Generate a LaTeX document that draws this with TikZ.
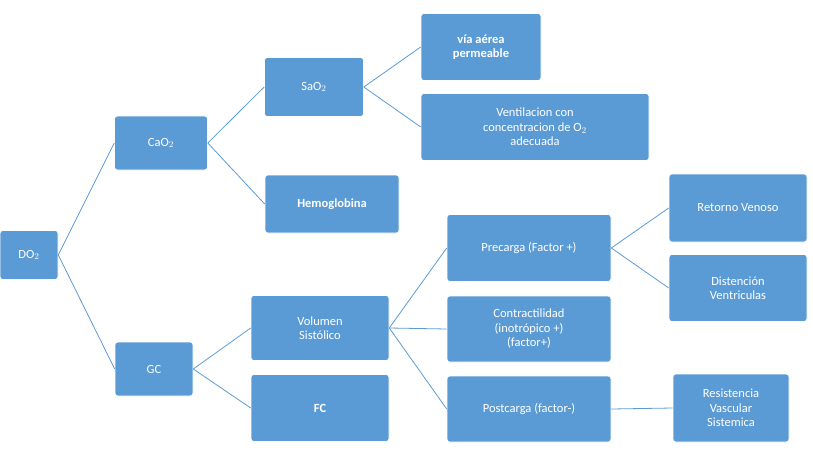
\documentclass[tikz,border=0pt]{standalone}
\usepackage{fontspec}
\setmainfont{Carlito}
\definecolor{bx}{HTML}{5B9BD5}
\begin{document}
\begin{tikzpicture}[x=1pt,y=-1pt,
  b/.style={fill=bx,draw=white,line width=0.6pt,rounded corners=3pt,text=white,align=center,font=\fontsize{12.5}{14.5}\selectfont,inner sep=1pt},
  l/.style={draw=bx,line width=0.8pt}]
\useasboundingbox (0,0) rectangle (813,452);
\newcommand{\bxn}[6]{\node[b,minimum width=#4,minimum height=#5] (#1) at (#2,#3) {#6};}
\bxn{do}{29}{255}{58}{49}{DO$_2$}
\bxn{cao}{161}{143}{93}{54}{CaO$_2$}
\bxn{gc}{154}{369}{78}{54}{GC}
\bxn{sao}{314}{87}{99}{59}{SaO$_2$}
\bxn{hb}{332}{204}{134}{58}{\textbf{Hemoglobina}}
\bxn{vs}{320}{328}{138}{65}{Volumen\\Sistólico}
\bxn{fc}{320}{408}{138}{67}{\textbf{FC}}
\bxn{via}{481}{47}{120}{67}{\textbf{vía aérea}\\\textbf{permeable}}
\bxn{ven}{535}{127}{228}{67}{Ventilacion con\\concentracion de O$_2$\\adecuada}
\bxn{pre}{529}{248}{164}{67}{Precarga (Factor +)}
\bxn{con}{529}{329}{164}{66}{Contractilidad\\(inotrópico +)\\(factor+)}
\bxn{pos}{529}{409}{164}{66}{Postcarga (factor-)}
\bxn{ret}{738}{208}{138}{68}{Retorno Venoso}
\bxn{dis}{738}{288}{138}{67}{Distención\\Ventriculas}
\bxn{res}{731}{408}{116}{68}{Resistencia\\Vascular\\Sistemica}
\draw[l] (do.east) -- (cao.west);
\draw[l] (do.east) -- (gc.west);
\draw[l] (cao.east) -- (sao.west);
\draw[l] (cao.east) -- (hb.west);
\draw[l] (gc.east) -- (vs.west);
\draw[l] (gc.east) -- (fc.west);
\draw[l] (sao.east) -- (via.west);
\draw[l] (sao.east) -- (ven.west);
\draw[l] (vs.east) -- (pre.west);
\draw[l] (vs.east) -- (con.west);
\draw[l] (vs.east) -- (pos.west);
\draw[l] (pre.east) -- (ret.west);
\draw[l] (pre.east) -- (dis.west);
\draw[l] (pos.east) -- (res.west);
\end{tikzpicture}
\end{document}
